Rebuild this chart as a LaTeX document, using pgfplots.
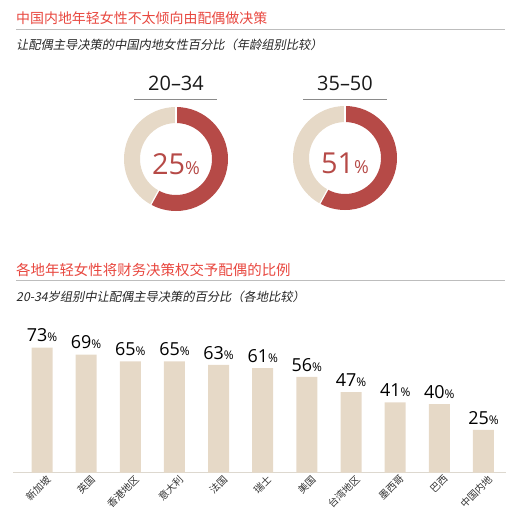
\documentclass[border=0pt]{standalone}
\usepackage{fontspec}
\usepackage{pgfplots}
\usepackage{pgfplotstable}
\pgfplotsset{compat=1.18}
\setmainfont{Open Sans}
\newfontfamily\cjk{Noto Sans CJK SC}
\newfontfamily\cjkit[FakeSlant=0.2]{Noto Sans CJK SC}

\definecolor{titlered}{HTML}{E8473F}
\definecolor{donutred}{HTML}{B64A47}
\definecolor{beige}{HTML}{E6D9C7}
\definecolor{rulegray}{HTML}{BDBDBD}
\definecolor{headgray}{HTML}{8A8A8A}
\definecolor{axisgray}{HTML}{DDD8CF}
\definecolor{ticktext}{HTML}{333333}

% share of 20-34 women letting the spouse lead decisions, by place
\pgfplotstableread{
x value
0 73
1 69
2 65
3 65
4 63
5 61
6 56
7 47
8 41
9 40
10 25
}\bardata

% donut: label value, drawn arc (percent of ring)
\newcommand{\donut}[2]{%
  \fill[beige] (axis cs:0,0) ++(90:52bp) arc[start angle=90, end angle={90-3.6*#2+360}, radius=52bp]
    -- ++({270-3.6*#2}:16bp) arc[start angle={90-3.6*#2+360}, end angle=90, radius=36bp] -- cycle;
  \fill[donutred] (axis cs:0,0) ++(90:52bp) arc[start angle=90, end angle={90-3.6*#2}, radius=52bp]
    -- ++({270-3.6*#2}:16bp) arc[start angle={90-3.6*#2}, end angle=90, radius=36bp] -- cycle;
  \draw[white, line width=1.2bp] (axis cs:0,0) ++(90:35bp) -- ++(90:18bp);
  \draw[white, line width=1.2bp] (axis cs:0,0) ++({90-3.6*#2}:35bp) -- ++({90-3.6*#2}:18bp);
  \node[anchor=base, text=donutred] at (axis cs:0,-15.5)
    {\fontsize{29}{29}\selectfont #1\fontsize{18}{18}\selectfont\%};
}

\begin{document}
\begin{tikzpicture}
\path[use as bounding box] (0,0) rectangle (512bp,-529bp);

% section 1
\node[anchor=base west, inner sep=0, text=titlered] at (16bp,-23bp)
  {\cjk\fontsize{14}{14}\selectfont 中国内地年轻女性不太倾向由配偶做决策};
\draw[rulegray, line width=0.9bp] (16bp,-29bp) -- (505bp,-29bp);
\node[anchor=base west, inner sep=0, text=black!85] at (16bp,-49.5bp)
  {\cjkit\fontsize{12.3}{12.3}\selectfont 让配偶主导决策的中国内地女性百分比（年龄组别比较）};

\node[anchor=base, inner sep=0, text=black!90] at (176bp,-90bp) {\fontsize{20}{20}\selectfont 20--34};
\draw[headgray, line width=1bp] (134bp,-99bp) -- (217bp,-99bp);
\node[anchor=base, inner sep=0, text=black!90] at (345bp,-90bp) {\fontsize{20}{20}\selectfont 35--50};
\draw[headgray, line width=1bp] (303bp,-99bp) -- (387bp,-99bp);

\begin{axis}[at={(176bp,-159bp)}, anchor=center, scale only axis,
  width=110bp, height=110bp, xmin=-55, xmax=55, ymin=-55, ymax=55,
  hide axis, clip=false]
\donut{25}{58}
\end{axis}

\begin{axis}[at={(345bp,-158bp)}, anchor=center, scale only axis,
  width=110bp, height=110bp, xmin=-55, xmax=55, ymin=-55, ymax=55,
  hide axis, clip=false]
\donut{51}{58}
\end{axis}

% section 2
\node[anchor=base west, inner sep=0, text=titlered] at (16bp,-275bp)
  {\cjk\fontsize{14.5}{14.5}\selectfont 各地年轻女性将财务决策权交予配偶的比例};
\draw[rulegray, line width=0.9bp] (16bp,-280bp) -- (505bp,-280bp);
\node[anchor=base west, inner sep=0, text=black!85] at (16bp,-301.5bp)
  {\cjkit\fontsize{12.3}{12.3}\selectfont 20-34岁组别中让配偶主导决策的百分比（各地比较）};

\begin{axis}[at={(13bp,-472.7bp)}, anchor=south west, scale only axis,
  width=493bp, height=137bp,
  xmin=-0.657, xmax=10.51, ymin=0, ymax=80,
  axis x line=bottom, axis y line=none,
  every outer x axis line/.append style={-},
  every inner x axis line/.append style={-},
  x axis line style={draw=axisgray, line width=1.5bp, -},
  xtick=data, major tick length=0,
  xticklabels={新加坡,英国,香港地区,意大利,法国,瑞士,美国,台湾地区,墨西哥,巴西,中国内地},
  xticklabel style={font=\cjk\fontsize{10}{10}\selectfont, text=ticktext,
    rotate=45, anchor=north east, xshift=5bp},
  ybar, bar width=21bp, clip=false,
  point meta=explicit symbolic,
  nodes near coords={\pgfplotspointmeta{\fontsize{12}{12}\selectfont\%}},
  every node near coord/.append style={font=\fontsize{18}{18}\selectfont,
    text=black, anchor=south, yshift=2bp}]
\addplot[fill=beige, draw=none] table[x=x, y=value, meta=value] {\bardata};
\end{axis}
\end{tikzpicture}
\end{document}
